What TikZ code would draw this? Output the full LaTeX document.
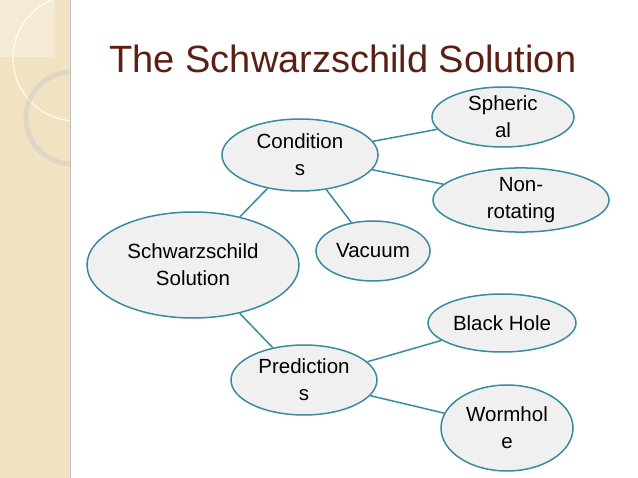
\documentclass[tikz,border=0pt]{standalone}
\usepackage{fontspec}
\setmainfont{Liberation Sans}
\usetikzlibrary{shapes.geometric}
\definecolor{teal1}{HTML}{3A8AA0}
\definecolor{fillg}{HTML}{F0F0F0}
\definecolor{beige}{HTML}{F1E2C2}
\definecolor{titlec}{HTML}{5C1F14}
\tikzset{
  el/.style={ellipse, draw=teal1, line width=1.5pt, fill=fillg, inner sep=0pt, align=center, text=black, font=\fontsize{20.5}{27}\selectfont},
  conn/.style={draw=teal1, line width=1.5pt}
}
\begin{document}
\begin{tikzpicture}[x=1pt,y=-1pt]
\useasboundingbox (0,0) rectangle (638,478);
\fill[white] (0,0) rectangle (638,478);
\fill[beige] (0,0) rectangle (70,478);
\begin{scope}
\clip (0,0) rectangle (70,478);
\fill[white,opacity=0.3] (0,0) rectangle (55,57);
\draw[white,line width=1.2pt,opacity=0.9] (76,58) circle (63);
\draw[black!20,line width=5pt,opacity=0.5] (72,118) circle (46);
\end{scope}
\draw[black!25,line width=0.8pt] (70,0) -- (70,478);
\node[anchor=west, text=titlec, font=\fontsize{38}{44}\selectfont] (title) at (106,59) {The Schwarzschild Solution};
\node[el, minimum width=212, minimum height=106] (sch) at (193,265) {Schwarzschild\\Solution};
\node[el, minimum width=156, minimum height=72] (con) at (300,155) {Condition\\s};
\node[el, minimum width=114, minimum height=60] (vac) at (373,251) {Vacuum};
\node[el, minimum width=142, minimum height=60] (sph) at (503,117) {Spheric\\al};
\node[el, minimum width=176, minimum height=60] (non) at (521,200) {Non-\\rotating};
\node[el, minimum width=148, minimum height=58] (bh) at (502,323) {Black Hole};
\node[el, minimum width=146, minimum height=70] (pre) at (304,380) {Prediction\\s};
\node[el, minimum width=132, minimum height=86] (wor) at (507,428) {Wormhol\\e};
\draw[conn] (con) -- (sch);
\draw[conn] (con) -- (vac);
\draw[conn] (con) -- (sph);
\draw[conn] (con) -- (non);
\draw[conn] (sch) -- (pre);
\draw[conn] (pre) -- (bh);
\draw[conn] (pre) -- (wor);
\end{tikzpicture}
\end{document}
